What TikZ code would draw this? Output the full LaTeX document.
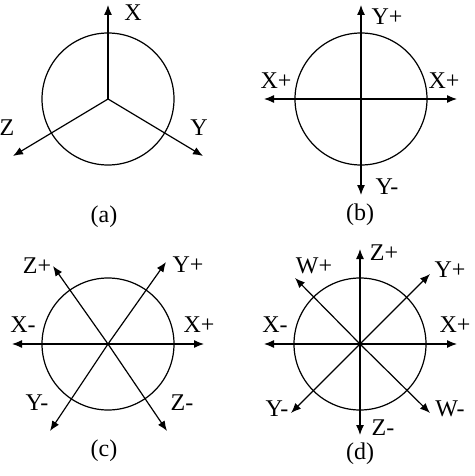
\documentclass[tikz,border=0pt]{standalone}
\usepackage{fontspec}
\setmainfont{Liberation Serif}
\usetikzlibrary{arrows.meta}

\tikzset{
  axis/.style={-{Latex[length=10pt,width=8pt]}, line width=1.2pt},
  ring/.style={line width=1.2pt},
  lbl/.style={font=\fontsize{24}{28}\selectfont, inner sep=0pt},
}

\begin{document}
\begin{tikzpicture}[x=1pt,y=-1pt]
      \useasboundingbox (0,0) rectangle (474,476);
      % (a)
      \coordinate (ca) at (108,99);
      \coordinate (aX) at (108,5);
      \coordinate (aZ) at (13,156);
      \coordinate (aY) at (203,156);
      \draw[ring] (ca) circle (66pt);
      \foreach \t in {aX,aZ,aY}
      \draw[axis] (ca) -- (\t);
      \node[lbl] (laX) at (133,13) {X};
      \node[lbl] (laZ) at (7,128) {Z};
      \node[lbl] (laY) at (199,128) {Y};
      \node[lbl] (capa) at (104,217) {(a)};
      % (b)
      \coordinate (cb) at (361,99);
      \coordinate (bN) at (361,5);
      \coordinate (bS) at (361,195);
      \coordinate (bW) at (264,99);
      \coordinate (bE) at (457,99);
      \draw[ring] (cb) circle (66pt);
      \foreach \t in {bN,bS,bW,bE}
      \draw[axis] (cb) -- (\t);
      \node[lbl] (lbN) at (387,17) {Y+};
      \node[lbl] (lbW) at (276,81) {X+};
      \node[lbl] (lbE) at (444,81) {X+};
      \node[lbl] (lbS) at (387,187) {Y-};
      \node[lbl] (capb) at (360,215) {(b)};
      % (c)
      \coordinate (cc) at (108,344);
      \coordinate (cW) at (12,344);
      \coordinate (cE) at (204,344);
      \coordinate (cNE) at (166,262);
      \coordinate (cSW) at (50,431);
      \coordinate (cNW) at (53,266);
      \coordinate (cSE) at (167,431);
      \draw[ring] (cc) circle (66pt);
      \foreach \t in {cW,cE,cNE,cSW,cNW,cSE}
      \draw[axis] (cc) -- (\t);
      \node[lbl] (lcNW) at (37,266) {Z+};
      \node[lbl] (lcNE) at (188,265) {Y+};
      \node[lbl] (lcW) at (23,325) {X-};
      \node[lbl] (lcE) at (199,325) {X+};
      \node[lbl] (lcSW) at (37,403) {Y-};
      \node[lbl] (lcSE) at (182,403) {Z-};
      \node[lbl] (capc) at (104,451) {(c)};
      % (d)
      \coordinate (cd) at (360,344);
      \coordinate (dN) at (360,249);
      \coordinate (dS) at (360,435);
      \coordinate (dW) at (264,344);
      \coordinate (dE) at (457,344);
      \coordinate (dNE) at (430,274);
      \coordinate (dSW) at (291,413);
      \coordinate (dNW) at (295,278);
      \coordinate (dSE) at (430,413);
      \draw[ring] (cd) circle (66pt);
      \foreach \t in {dN,dS,dW,dE,dNE,dSW,dNW,dSE}
      \draw[axis] (cd) -- (\t);
      \fill (cd) circle (2pt);
      \node[lbl] (ldN) at (384,253) {Z+};
      \node[lbl] (ldNW) at (314,266) {W+};
      \node[lbl] (ldNE) at (450,270) {Y+};
      \node[lbl] (ldW) at (275,325) {X-};
      \node[lbl] (ldE) at (455,325) {X+};
      \node[lbl] (ldSW) at (277,409) {Y-};
      \node[lbl] (ldSE) at (450,409) {W-};
      \node[lbl] (ldS) at (383,428) {Z-};
      \node[lbl] (capd) at (360,454) {(d)};
    \end{tikzpicture}
\end{document}
